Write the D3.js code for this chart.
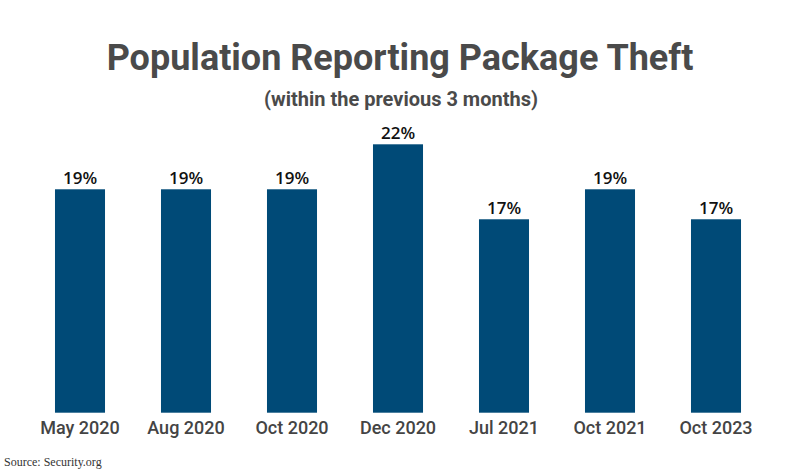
<!DOCTYPE html>
<html>
<head>
<meta charset="utf-8">
<script src="https://cdn.jsdelivr.net/npm/d3@7"></script>
<style>
  body { margin: 0; background: #fff; }
  svg { display: block; }
</style>
</head>
<body>
<svg id="chart" width="800" height="475"></svg>
<script>
// survey waves and share reporting a stolen package (%)
var periods = ["May 2020", "Aug 2020", "Oct 2020", "Dec 2020", "Jul 2021", "Oct 2021", "Oct 2023"];
var shares = [19, 19, 19, 22, 17, 19, 17];

var svg = d3.select("#chart");

var x = d3.scaleBand()
  .domain(periods)
  .range([27, 769])
  .paddingInner(0.528)
  .paddingOuter(0.264);

// axis does not start at zero in the original
var y = d3.scaleLinear()
  .domain([4.1, 22])
  .range([412.7, 144.3]);

//
// title block
svg.append("text")
  .attr("x", 400).attr("y", 70)
  .attr("text-anchor", "middle")
  .style("font-family", "Roboto, sans-serif")
  .style("font-weight", 700)
  .style("font-size", "36px")
  .style("fill", "#4a4a4a")
  .text("Population Reporting Package Theft");

svg.append("text")
  .attr("x", 401).attr("y", 106)
  .attr("text-anchor", "middle")
  .style("font-family", "Roboto, sans-serif")
  .style("font-weight", 700)
  .style("font-size", "20px")
  .style("fill", "#4a4a4a")
  .text("(within the previous 3 months)");

//
// bars
var bars = svg.append("g");
bars.selectAll("rect")
  .data(shares)
  .enter().append("rect")
  .attr("x", (d, i) => x(periods[i]))
  .attr("width", x.bandwidth())
  .attr("y", (d) => y(d))
  .attr("height", (d) => y.range()[0] - y(d))
  .attr("fill", "#004a77");

bars.selectAll("text")
  .data(shares)
  .enter().append("text")
  .attr("x", (d, i) => x(periods[i]) + x.bandwidth() / 2)
  .attr("y", (d) => y(d) - 5)
  .attr("text-anchor", "middle")
  .style("font-family", "'Open Sans', sans-serif")
  .style("font-weight", 600)
  .style("font-size", "17px")
  .style("fill", "#111")
  .text((d) => d + "%");

//
// category axis (labels only)
var xAxis = svg.append("g")
  .attr("transform", "translate(0," + y.range()[0] + ")")
  .call(d3.axisBottom(x).tickSize(0).tickPadding(9));
xAxis.select(".domain").remove();
xAxis.selectAll("text")
  .style("font-family", "Roboto, sans-serif")
  .style("font-weight", 500)
  .style("font-size", "18px")
  .style("fill", "#444");

svg.append("text")
  .attr("x", 4).attr("y", 466)
  .style("font-family", "'Liberation Serif', 'Times New Roman', serif")
  .style("font-size", "12px")
  .style("fill", "#333")
  .text("Source: Security.org");
</script>
</body>
</html>
